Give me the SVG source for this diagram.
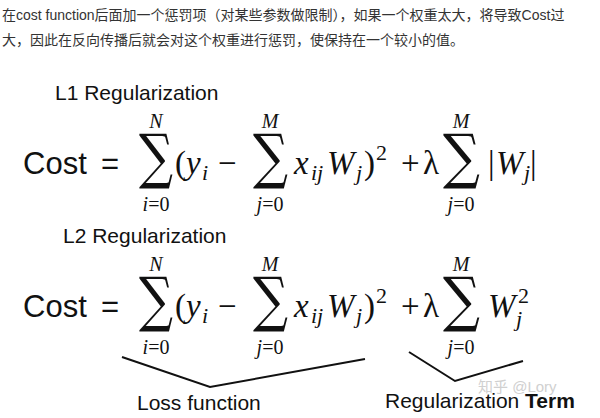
<svg xmlns="http://www.w3.org/2000/svg" width="600" height="418" viewBox="0 0 600 418">
<style>
.cn{font-family:"Liberation Sans","Noto Sans CJK SC",sans-serif;font-size:14px;fill:#333}
.h{font-family:"Liberation Sans",Arial,sans-serif;font-size:21px;fill:#111}
.c{font-family:"Liberation Sans",Arial,sans-serif;font-size:31px;fill:#111}
.m{font-family:"Liberation Serif","DejaVu Serif",serif;font-style:italic;font-size:33px;fill:#111}
.r{font-family:"Liberation Serif","DejaVu Serif",serif;font-size:33px;fill:#111}
.sb{font-family:"Liberation Serif","DejaVu Serif",serif;font-style:italic;font-size:22px;fill:#111}
.sp{font-family:"Liberation Serif","DejaVu Serif",serif;font-size:22px;fill:#111}
.l{font-family:"Liberation Serif","DejaVu Serif",serif;font-size:20px;fill:#111;text-anchor:middle}
.li{font-style:italic}
.s{font-family:"DejaVu Serif",serif;font-size:60px;fill:#111}
.b{fill:none;stroke:#111;stroke-width:2}
</style>
<rect width="600" height="418" fill="#fff"/>
<text class="cn" x="2" y="20">在cost function后面加一个惩罚项（对某些参数做限制），如果一个权重太大，将导致Cost过</text>
<text class="cn" x="2" y="45">大，因此在反向传播后就会对这个权重进行惩罚，使保持在一个较小的值。</text>

<g id="l1">
<text class="h" x="55" y="100">L1 Regularization</text>
<text class="c" x="23" y="174">Cost</text>
<text class="c" x="101" y="174">=</text>
<text class="l li" x="156" y="128">N</text>
<text class="s" x="139" y="177" textLength="34" lengthAdjust="spacingAndGlyphs">∑</text>
<text class="l" x="156" y="211"><tspan class="li">i</tspan>=0</text>
<text class="r" x="175" y="174">(</text><text class="m" x="186" y="174">y</text><text class="sb" x="202" y="180">i</text><text class="r" x="218" y="174">−</text>
<text class="l li" x="270" y="128">M</text>
<text class="s" x="253" y="177" textLength="35" lengthAdjust="spacingAndGlyphs">∑</text>
<text class="l" x="270" y="211"><tspan class="li">j</tspan>=0</text>
<text class="m" x="294" y="174">x</text><text class="sb" x="311" y="180">ij</text><text class="m" x="327" y="174">W</text><text class="sb" x="356" y="180">j</text><text class="r" x="364" y="174">)</text><text class="sp" x="376" y="160">2</text><text class="r" x="401" y="174">+</text><text class="r" x="423" y="174">λ</text>
<text class="l li" x="461" y="128">M</text>
<text class="s" x="443" y="177" textLength="37" lengthAdjust="spacingAndGlyphs">∑</text>
<text class="l" x="461" y="211"><tspan class="li">j</tspan>=0</text>
<text class="r" x="488" y="174">|</text><text class="m" x="496" y="174">W</text><text class="sb" x="524" y="180">j</text><text class="r" x="530" y="174">|</text>
</g>

<g id="l2">
<text class="h" x="63" y="243">L2 Regularization</text>
<text class="c" x="23" y="317">Cost</text>
<text class="c" x="101" y="317">=</text>
<text class="l li" x="156" y="271">N</text>
<text class="s" x="139" y="320" textLength="34" lengthAdjust="spacingAndGlyphs">∑</text>
<text class="l" x="156" y="354"><tspan class="li">i</tspan>=0</text>
<text class="r" x="175" y="317">(</text><text class="m" x="186" y="317">y</text><text class="sb" x="202" y="323">i</text><text class="r" x="218" y="317">−</text>
<text class="l li" x="270" y="271">M</text>
<text class="s" x="253" y="320" textLength="35" lengthAdjust="spacingAndGlyphs">∑</text>
<text class="l" x="270" y="354"><tspan class="li">j</tspan>=0</text>
<text class="m" x="294" y="317">x</text><text class="sb" x="311" y="323">ij</text><text class="m" x="327" y="317">W</text><text class="sb" x="356" y="323">j</text><text class="r" x="364" y="317">)</text><text class="sp" x="376" y="303">2</text><text class="r" x="401" y="317">+</text><text class="r" x="423" y="317">λ</text>
<text class="l li" x="461" y="271">M</text>
<text class="s" x="443" y="320" textLength="37" lengthAdjust="spacingAndGlyphs">∑</text>
<text class="l" x="461" y="354"><tspan class="li">j</tspan>=0</text>
<text class="m" x="488" y="317">W</text><text class="sb" x="516" y="326">j</text><text class="sp" x="518" y="303">2</text>
</g>

<g id="connectors">
<polyline class="b" points="122,357 210,387 365,359"/>
<polyline class="b" points="409,352 455,381 523,361"/>
</g>

<g id="labels">
<text class="h" x="137" y="410">Loss function</text>
<text x="478" y="392" font-family="'Liberation Sans','Noto Sans CJK SC',sans-serif" font-size="15" fill="#d0d0d0">知乎 @Lory</text>
<text class="h" x="385" y="408">Regularization <tspan font-weight="bold">Term</tspan></text>
</g>
</svg>
